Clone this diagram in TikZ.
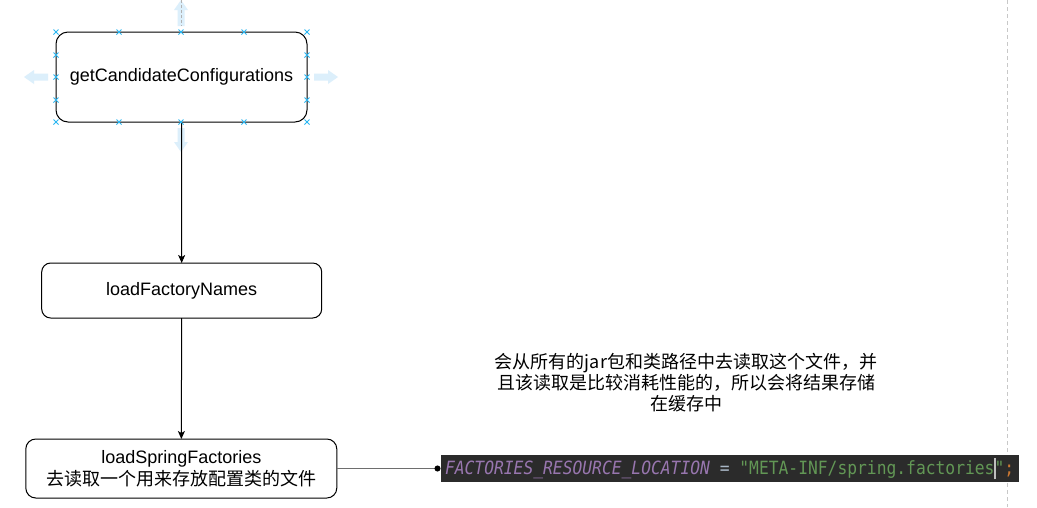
\documentclass[tikz,border=0pt]{standalone}
\usepackage{fontspec}
\usepackage{graphicx}
\setmainfont{Liberation Sans}
\newfontfamily\cjk{Noto Sans CJK SC}
\newfontfamily\codefont{DejaVu Sans Mono}
\usetikzlibrary{arrows.meta}
\definecolor{hoverblue}{RGB}{220,239,251}
\definecolor{handleblue}{RGB}{41,182,242}
\definecolor{codebg}{RGB}{43,43,43}
\definecolor{codepurple}{RGB}{152,118,175}
\definecolor{codegray}{RGB}{169,183,198}
\definecolor{codegreen}{RGB}{98,151,85}
\definecolor{codeorange}{RGB}{204,120,50}
\definecolor{cursorgray}{RGB}{190,190,190}
\definecolor{guidegray}{RGB}{200,200,200}
\definecolor{linkgray}{RGB}{110,110,110}
\tikzset{
  box/.style={draw=black, line width=1pt, fill=white, align=center, inner sep=0pt, outer sep=0pt,
    font=\fontsize{18}{22}\selectfont},
  conn/.style={draw=black, line width=1pt, -{Stealth[length=8pt,width=7pt,inset=2pt]}},
  handle/.style={draw=handleblue, line width=1pt},
}
\begin{document}
\begin{tikzpicture}[x=1pt,y=-1pt]
\fill[white] (0,0) rectangle (1037,507);
\useasboundingbox (0,0) rectangle (1037,507);

% guide line
\draw[guidegray, line width=0.8pt, dash pattern=on 4pt off 3pt] (1007,0) -- (1007,507);

% hover arrows round the selected node
\fill[hoverblue] (177.5,26) -- (177.5,10) -- (174,10) -- (181,0) -- (188,10) -- (184.5,10) -- (184.5,26) -- cycle;
\draw[gray!60, line width=0.8pt, dash pattern=on 3pt off 2pt] (181,0) -- (181,26);
\fill[hoverblue] (177.5,128) -- (177.5,142) -- (174,142) -- (181,152) -- (188,142) -- (184.5,142) -- (184.5,128) -- cycle;
\fill[hoverblue] (48,73.5) -- (34,73.5) -- (34,70) -- (24,77) -- (34,84) -- (34,80.5) -- (48,80.5) -- cycle;
\fill[hoverblue] (314,73.5) -- (328,73.5) -- (328,70) -- (338,77) -- (328,84) -- (328,80.5) -- (314,80.5) -- cycle;

% nodes
\node[box, rounded corners=12pt, minimum width=251pt, minimum height=90pt] (gcc) at (181.5,77) {getCandidateConfigurations};
\node[box, rounded corners=9pt, minimum width=280pt, minimum height=55pt] (lfn) at (181.7,290.5) {loadFactoryNames};
\node[box, rounded corners=10pt, minimum width=311pt, minimum height=59pt] (lsf) at (181.3,468.5)
  {loadSpringFactories\\{\cjk 去读取一个用来存放配置类的文件}};

\node[fill=codebg, inner xsep=4.5pt, inner ysep=0pt, minimum height=26.5pt, anchor=west, outer sep=0pt] (code) at (440.5,468.5)
  {\scalebox{1}[1.12]{\codefont\fontsize{16.3}{18}\selectfont\textcolor{codepurple}{\itshape FACTORIES\_RESOURCE\_LOCATION}\textcolor{codegray}{\ =\ }\textcolor{codegreen}{"META-INF/spring.factories\rlap{\hspace{-0.5pt}\textcolor{cursorgray}{\rule[-4.5pt]{2pt}{19.5pt}}}"}\textcolor{codeorange}{;}}};

\node[align=center, font={\cjk\fontsize{18}{21}\selectfont}] (note) at (686,383)
  {会从所有的jar包和类路径中去读取这个文件，并\\且该读取是比较消耗性能的，所以会将结果存储\\在缓存中};

% connectors
\draw[conn] (gcc) -- (lfn);
\draw[conn] (lfn) -- (lsf);
\draw[linkgray, line width=1pt, -{Circle[length=6pt,color=black,fill=black]}] (lsf.east) -- (code.west);

% selection handles
\foreach \px in {56,119,181,244,307} {
  \foreach \py in {32,122} {
    \draw[handle] (\px-2.5,\py-2.5) -- (\px+2.5,\py+2.5) (\px-2.5,\py+2.5) -- (\px+2.5,\py-2.5);
  }
}
\foreach \px in {56,307} {
  \foreach \py in {55,77,100} {
    \draw[handle] (\px-2.5,\py-2.5) -- (\px+2.5,\py+2.5) (\px-2.5,\py+2.5) -- (\px+2.5,\py-2.5);
  }
}
\end{tikzpicture}
\end{document}
